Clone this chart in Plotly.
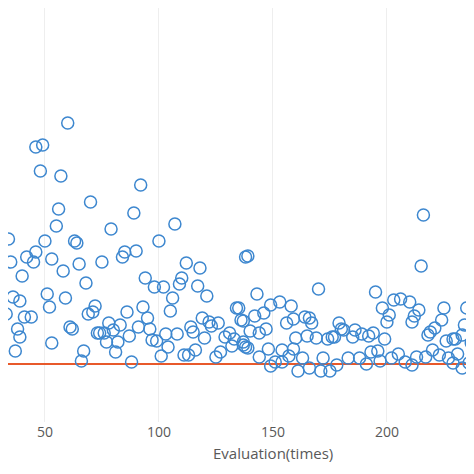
import plotly.graph_objects as go

evals = [60,46,49,48,57,92,70,56,89,55,107,79,34,50,63,64,100,46,42,45,35,53,85,84,90,65,75,58,40,112,118,138,94,68,110,109,98,102,117,51,36,39,121,106,59,52,72,93,134,33,105,86,69,71,41,44,95,119,122,126,123,136,78,80,83,61,62,114,115,38,73,74,76,91,96,103,108,131,129,120,39,87,97,99,77,82,53,133,137,104,132,37,67,81,116,127,101,111,113,125,66,88,
         216,215,139,170,195,143,153,149,158,203,206,210,198,214,225,235,135,146,142,201,200,212,211,164,166,159,156,167,224,137,179,234,147,140,144,180,181,221,219,218,186,189,192,194,160,165,169,176,174,177,185,199,226,229,230,233,137,237,138,159,148,154,139,196,193,205,220,238,240,144,157,163,172,183,188,202,213,217,223,227,231,236,149,151,154,178,191,197,208,211,229,233,161,166,171,175,222]
fitness = [366,342,344,318,313,304,287,280,276,263,265,260,250,248,248,246,248,237,232,227,227,230,237,232,238,225,227,218,213,226,221,232,211,206,211,205,202,202,203,195,192,188,193,191,191,182,183,182,181,175,178,177,175,177,172,172,171,171,167,166,163,169,166,159,164,162,160,162,157,160,156,156,156,162,160,155,155,156,152,151,152,153,149,148,147,147,146,150,144,142,143,138,138,137,139,137,133,134,134,132,128,127,
           274,223,233,200,197,195,187,184,183,189,190,187,181,179,181,181,181,176,173,174,167,173,167,172,171,170,166,166,169,168,166,164,160,158,156,160,159,161,157,154,159,155,153,156,151,153,151,152,150,152,152,150,148,150,150,154,147,146,142,140,140,139,141,138,137,135,139,141,133,132,133,131,131,131,131,131,132,132,134,131,135,126,123,127,127,124,125,128,127,124,126,121,118,121,118,118]

target_x = [30, 250]
target_y = [125, 125]

fig = go.Figure()
fig.add_trace(go.Scatter(x=target_x, y=target_y, mode="lines",
                         line=dict(color="#e8592b", width=2), hoverinfo="skip"))
fig.add_trace(go.Scatter(x=evals, y=fitness, mode="markers",
                         marker=dict(symbol="circle-open", size=12,
                                     color="#3d87cf", line=dict(width=1.5, color="#3d87cf"))))
fig.add_annotation(x=150, y=-0.105, xref="x", yref="paper", text="Evaluation(times)",
                   showarrow=False, font=dict(size=15, color="#595959", family="Open Sans"))
fig.update_layout(width=474, height=474, margin=dict(l=0, r=0, t=0, b=60),
                  plot_bgcolor="white", paper_bgcolor="white", showlegend=False,
                  font=dict(family="Open Sans", color="#595959", size=14))
fig.update_xaxes(range=[33.8, 241.7], tickvals=[50, 100, 150, 200], showgrid=True,
                 gridcolor="#eeeeee", zeroline=False, showline=False, ticks="")
fig.update_yaxes(range=[67, 481], showticklabels=False, showgrid=False, zeroline=False)
fig.write_html("out.html")
